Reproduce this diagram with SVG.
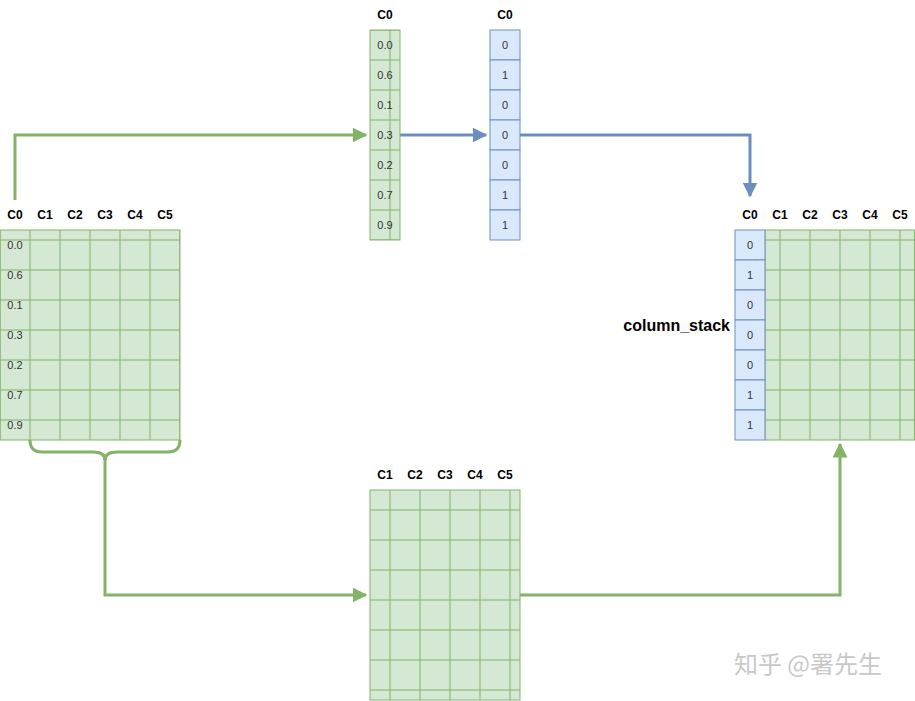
<svg xmlns="http://www.w3.org/2000/svg" width="915" height="701" viewBox="0 0 915 701">
<style>
.g{fill:#d5e8d4;stroke:#82b366;stroke-width:1}
.b{fill:#dae8fc;stroke:#6c8ebf;stroke-width:1}
.h{font-family:"Liberation Sans",Arial,sans-serif;font-size:12px;font-weight:bold;text-anchor:middle;fill:#000}
.v{font-family:"Liberation Sans",Arial,sans-serif;font-size:11px;text-anchor:middle;fill:#333}
.cg{fill:none;stroke:#82b366;stroke-width:3}
.cb{fill:none;stroke:#6c8ebf;stroke-width:3}
</style>
<defs>
<pattern id="gp" width="30" height="30" patternUnits="userSpaceOnUse"><rect x="0" y="0" width="30" height="30" class="g"/></pattern>
<marker id="ag" viewBox="0 0 10 10" refX="9" refY="5" markerWidth="5" markerHeight="5" orient="auto" markerUnits="userSpaceOnUse"><path d="M0,0L10,5L0,10z" fill="#82b366"/></marker>
<marker id="ab" viewBox="0 0 10 10" refX="9" refY="5" markerWidth="5" markerHeight="5" orient="auto"><path d="M0,0L10,5L0,10z" fill="#6c8ebf"/></marker>
<marker id="agg" viewBox="0 0 10 10" refX="9" refY="5" markerWidth="5" markerHeight="5" orient="auto"><path d="M0,0L10,5L0,10z" fill="#82b366"/></marker>
</defs>
<rect width="915" height="701" fill="#fff"/>
<g id="connectors">
<path class="cg" d="M15,200V135H366" marker-end="url(#agg)"/>
<path class="cb" d="M400,135H486" marker-end="url(#ab)"/>
<path class="cb" d="M520,135H750V196" marker-end="url(#ab)"/>
<path class="cg" d="M30,440Q30,452 42,452H93Q105,452 105,460Q105,452 117,452H168Q180,452 180,440"/>
<path class="cg" d="M105,458V595H366" marker-end="url(#agg)"/>
<path class="cg" d="M520,595H840V444" marker-end="url(#agg)"/>
</g>
<g id="left-table">
<g class="h"><text x="15" y="219">C0</text><text x="45" y="219">C1</text><text x="75" y="219">C2</text><text x="105" y="219">C3</text><text x="135" y="219">C4</text><text x="165" y="219">C5</text></g>
<rect x="0" y="230" width="180" height="210" fill="url(#gp)"/>
<rect x="0" y="230" width="180" height="210" class="g" fill="none" style="fill:none"/>
<g class="v"><text x="15" y="249">0.0</text><text x="15" y="279">0.6</text><text x="15" y="309">0.1</text><text x="15" y="339">0.3</text><text x="15" y="369">0.2</text><text x="15" y="399">0.7</text><text x="15" y="429">0.9</text></g>
</g>
<g id="c0-column">
<text class="h" x="385" y="19">C0</text>
<rect x="370" y="30" width="30" height="210" fill="url(#gp)" transform="translate(0,0)"/>
<rect x="370" y="30" width="30" height="210" class="g" style="fill:none"/>
<g class="v"><text x="385" y="49">0.0</text><text x="385" y="79">0.6</text><text x="385" y="109">0.1</text><text x="385" y="139">0.3</text><text x="385" y="169">0.2</text><text x="385" y="199">0.7</text><text x="385" y="229">0.9</text></g>
</g>
<g id="binary-column">
<text class="h" x="505" y="19">C0</text>
<rect x="490" y="30" width="30" height="30" class="b"/><rect x="490" y="60" width="30" height="30" class="b"/><rect x="490" y="90" width="30" height="30" class="b"/><rect x="490" y="120" width="30" height="30" class="b"/><rect x="490" y="150" width="30" height="30" class="b"/><rect x="490" y="180" width="30" height="30" class="b"/><rect x="490" y="210" width="30" height="30" class="b"/>
<g class="v"><text x="505" y="49">0</text><text x="505" y="79">1</text><text x="505" y="109">0</text><text x="505" y="139">0</text><text x="505" y="169">0</text><text x="505" y="199">1</text><text x="505" y="229">1</text></g>
</g>
<g id="bottom-table">
<g class="h"><text x="385" y="479">C1</text><text x="415" y="479">C2</text><text x="445" y="479">C3</text><text x="475" y="479">C4</text><text x="505" y="479">C5</text></g>
<rect x="370" y="490" width="150" height="210" fill="url(#gp)"/>
<rect x="370" y="490" width="150" height="210" class="g" style="fill:none"/>
</g>
<g id="result-table">
<g class="h"><text x="750" y="219">C0</text><text x="780" y="219">C1</text><text x="810" y="219">C2</text><text x="840" y="219">C3</text><text x="870" y="219">C4</text><text x="900" y="219">C5</text></g>
<rect x="765" y="230" width="150" height="210" fill="url(#gp)" style="transform:translate(0,0)"/>
<rect x="765" y="230" width="149.5" height="210" class="g" style="fill:none"/>
<rect x="735" y="230" width="30" height="30" class="b"/><rect x="735" y="260" width="30" height="30" class="b"/><rect x="735" y="290" width="30" height="30" class="b"/><rect x="735" y="320" width="30" height="30" class="b"/><rect x="735" y="350" width="30" height="30" class="b"/><rect x="735" y="380" width="30" height="30" class="b"/><rect x="735" y="410" width="30" height="30" class="b"/>
<g class="v"><text x="750" y="249">0</text><text x="750" y="279">1</text><text x="750" y="309">0</text><text x="750" y="339">0</text><text x="750" y="369">0</text><text x="750" y="399">1</text><text x="750" y="429">1</text></g>
<text x="730" y="331" font-family="Liberation Sans,Arial,sans-serif" font-size="16" font-weight="bold" text-anchor="end">column_stack</text>
</g>
<text x="808" y="673" font-family="Noto Sans CJK SC,sans-serif" font-size="24" fill="#c8c8c8" text-anchor="middle">知乎 @署先生</text>
</svg>
